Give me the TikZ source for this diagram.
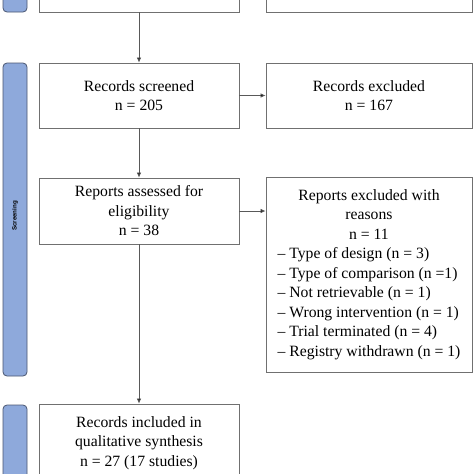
\documentclass[tikz,border=0pt]{standalone}
\usepackage{fontspec}
\setmainfont{Liberation Serif}
\newfontfamily\bandfont{Liberation Sans}
\usetikzlibrary{arrows.meta}
\definecolor{boxgray}{HTML}{707070}
\definecolor{bandblue}{HTML}{8EA9DB}
\definecolor{banddark}{HTML}{4A5670}
\tikzset{
  stagebox/.style={draw=boxgray, line width=0.9pt, fill=white, align=center,
    inner sep=0pt, font=\fontsize{15.7}{19.5}\selectfont},
  band/.style={draw=banddark, fill=bandblue, line width=0.8pt, rounded corners=4pt},
  flow/.style={draw=black!65, line width=0.7pt, -{Latex[length=5pt,width=4.5pt,fill=black]}}
}
\begin{document}
\begin{tikzpicture}[x=1pt,y=-1pt]
    \useasboundingbox (0,0) rectangle (474,474);
    \clip (0,0) rectangle (474,474);

    % stage bands
    \draw[band] (3,-30) rectangle (27,12);
    \draw[band] (3,63) rectangle (27,376);
    \node[rotate=90, font=\bandfont\bfseries\fontsize{6.2}{7}\selectfont] (screening) at (15,216) {Screening};
    \draw[band] (3,405) rectangle (27,520);

    % boxes
    \node[stagebox, minimum width=200pt, minimum height=50pt] (identified) at (139,-13) {};
    \node[stagebox, minimum width=206pt, minimum height=50pt] (removed) at (369,-13) {};

    \node[stagebox, minimum width=200pt, minimum height=65pt] (screened) at (139,95.5)
        {Records screened\\n = 205};
    \node[stagebox, minimum width=206pt, minimum height=65pt] (excluded) at (369,95.5)
        {Records excluded\\n = 167};

    \node[stagebox, minimum width=200pt, minimum height=66pt] (assessed) at (139,211)
        {Reports assessed for\\eligibility\\n = 38};
    \node[stagebox, minimum width=206pt, minimum height=195pt] (reasons) at (369,274.5)
        {\begin{tabular}{@{}l@{}}
         \multicolumn{1}{@{}c@{}}{Reports excluded with}\\
         \multicolumn{1}{@{}c@{}}{reasons}\\
         \multicolumn{1}{@{}c@{}}{n = 11}\\
         – Type of design (n = 3)\\
         – Type of comparison (n =1)\\
         – Not retrievable (n = 1)\\
         – Wrong intervention (n = 1)\\
         – Trial terminated (n = 4)\\
         – Registry withdrawn (n = 1)
         \end{tabular}};

    \node[stagebox, minimum width=200pt, minimum height=78pt] (included) at (139,443)
        {Records included in\\qualitative synthesis\\n = 27 (17 studies)};

    % arrows
    \draw[flow] (identified) -- (screened);
    \draw[flow] (screened) -- (excluded);
    \draw[flow] (screened) -- (assessed);
    \draw[flow] (assessed.east) -- (reasons.west |- assessed.east);
    \draw[flow] (assessed) -- (included);
\end{tikzpicture}
\end{document}
